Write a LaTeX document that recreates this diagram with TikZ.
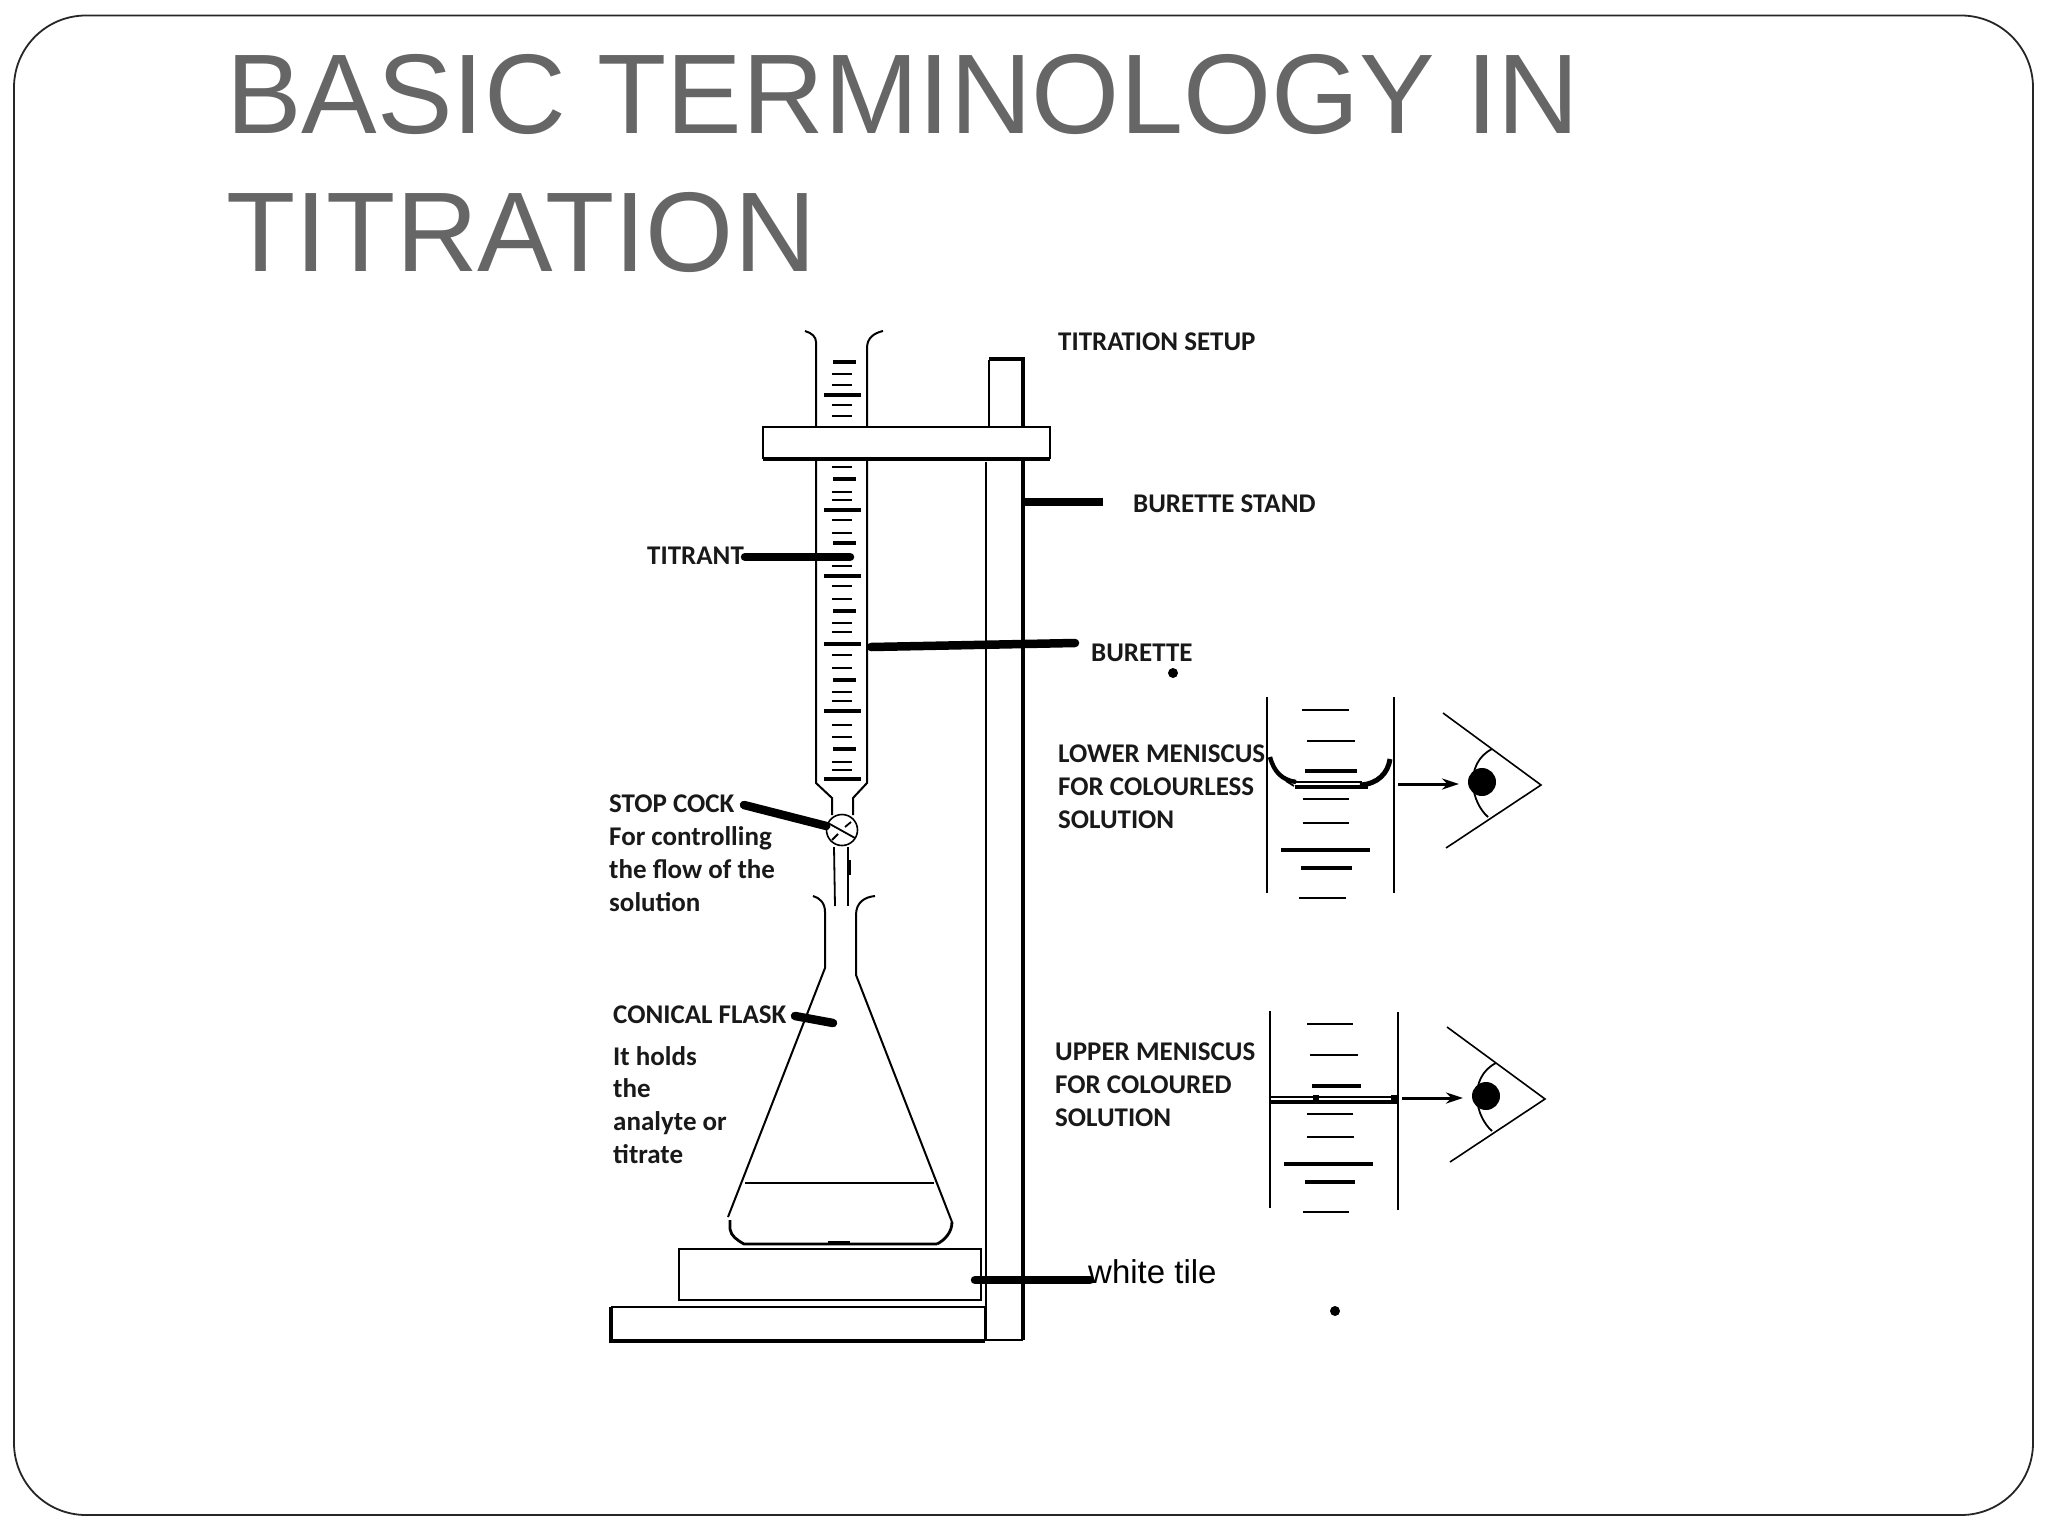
\documentclass[tikz,border=0pt]{standalone}
\usepackage{fontspec}
\setmainfont{Liberation Sans}
\newfontfamily\labelfont{Carlito}
\usetikzlibrary{arrows.meta}

\begin{document}
\begin{tikzpicture}[x=1pt, y=-1pt, line cap=butt,
    thin line/.style={line width=1.8pt},
    wall line/.style={line width=2pt},
    thick line/.style={line width=3.8pt},
    leader/.style={line width=8.5pt, line cap=round},
    sketch label/.style={anchor=north west, inner sep=0pt, align=left, text=black!90,
        font=\labelfont\bfseries\fontsize{27}{32.7}\selectfont},
    heading text/.style={anchor=base west, inner sep=0pt, text=black!60,
        font=\fontsize{113.3}{136}\selectfont}]

\useasboundingbox (0,0) rectangle (2048,1536);

% Slide frame and heading
\draw[line width=1.8pt, rounded corners=72pt, draw=black!85] (14,15.5) rectangle (2033,1515);
\node[heading text] (heading) at (226,134) {BASIC TERMINOLOGY IN};
\node[heading text] (heading2) at (226,271) {TITRATION};

% Stand, clamp, base and tile
\draw[wall line] (989,427) -- (989,360);
\draw[line width=3.2pt] (989,359) -- (1023,359) -- (1023,427);
\draw[wall line, fill=white] (763,427) rectangle (1050,458);
\draw[line width=3.4pt] (763,459) -- (1050,459);
\draw[wall line] (986,462) -- (986,1340) -- (1023,1340);
\draw[line width=3.6pt] (1023,458) -- (1023,1340);
\draw[wall line] (611,1307) -- (985,1307) -- (985,1341);
\draw[line width=3.6pt] (985,1341) -- (611,1341) -- (611,1307);
\draw[wall line] (679,1249) rectangle (981,1300);

% Burette
\draw[wall line] (805,331) .. controls (812,333) and (816,337) .. (816,342) -- (816,427);
\draw[wall line] (883,331) .. controls (874,333) and (867,338) .. (867,348) -- (867,427);
\draw[wall line] (816,458) -- (816,783) -- (832,798) -- (832,815);
\draw[wall line] (867,458) -- (867,783) -- (853,798) -- (853,815);
\foreach \y in {374,385,405,416,467,492,500,520,533,566,586,599,623,632,655,668,692,701,725,737,762,770} {
    \draw[thin line] (832,\y) -- (852,\y);
}
\foreach \y in {362,479,543,611,680,749} {
    \draw[thick line] (833,\y) -- (856,\y);
}
\foreach \y in {395,510,576,644,711,779} {
    \draw[thick line] (824,\y) -- (861,\y);
}

% Stop cock
\node[circle, draw, line width=1.6pt, minimum size=31pt, inner sep=0pt] (cock) at (842,830) {};
\draw[thin line] (828,823) -- (855,838);
\draw[thin line] (845,827) -- (851,822);
\draw[thin line] (832,840) -- (838,834);
\draw[thin line] (834,847) -- (835,906);
\draw[thin line] (848,847) -- (848,906);
\draw[line width=3pt] (849,860) -- (849,875);

% Conical flask
\draw[wall line] (813,896) .. controls (820,898) and (825,903) .. (825,912) -- (825,968) -- (728,1217);
\draw[wall line] (875,896) .. controls (865,897) and (856,902) .. (856,915) -- (856,975) -- (952,1222);
\draw[line width=2.8pt] (730,1220) -- (730,1229) .. controls (731,1236) and (737,1240) .. (744,1244) -- (937,1244);
\draw[line width=2.8pt] (937,1244) .. controls (945,1240) and (952,1232) .. (952,1222);
\draw[wall line] (745,1183) -- (934,1183);
\draw[wall line] (828,1242) -- (850,1242);

% Leaders to the labels
\coordinate (standA) at (1023,502);
\coordinate (standB) at (1103,502);
\coordinate (titrantA) at (745,557);
\coordinate (titrantB) at (850,557);
\coordinate (buretteA) at (871,647);
\coordinate (buretteK) at (923,646);
\coordinate (buretteB) at (1075,643);
\coordinate (cockA) at (744,805);
\coordinate (flaskA) at (795,1016);
\coordinate (flaskB) at (833,1023);
\coordinate (tileA) at (975,1280);
\coordinate (tileB) at (1090,1280);
\draw[leader, line cap=butt] (standA) -- (standB);
\draw[leader] (titrantA) -- (titrantB);
\draw[leader] (buretteA) -- (buretteK) -- (buretteB);
\draw[leader] (cockA) -- (cock);
\draw[leader] (flaskA) -- (flaskB);
\draw[leader] (tileA) -- (tileB);

% Labels
\node[sketch label] (setup) at (1058,333) {TITRATION SETUP};
\node[sketch label] (stand) at (1133,495) {BURETTE STAND};
\node[sketch label] (titrant) at (647,547) {TITRANT};
\node[sketch label] (burette) at (1091,644) {BURETTE};
\node[sketch label] (cocktext) at (609,795) {STOP COCK\\For controlling\\the flow of the\\solution};
\node[sketch label] (flask) at (613,1006) {CONICAL FLASK};
\node[sketch label] (holds) at (613,1046) {It holds\\the\\analyte or\\titrate};
\node[sketch label] (lower) at (1058,745) {LOWER MENISCUS\\FOR COLOURLESS\\SOLUTION};
\node[sketch label] (upper) at (1055,1043) {UPPER MENISCUS\\FOR COLOURED\\SOLUTION};
\node[anchor=base west, inner sep=0pt, font=\fontsize{33}{36}\selectfont] (tile) at (1088,1283) {white tile};

% Stray dots
\node[circle, fill=black, inner sep=0pt, minimum size=10pt] (dotA) at (1173,673) {};
\node[circle, fill=black, inner sep=0pt, minimum size=10pt] (dotB) at (1335,1311) {};

% Lower meniscus tube
\draw[wall line] (1267,697) -- (1267,893);
\draw[wall line] (1394,697) -- (1394,893);
\foreach \xa/\xb/\y in {1302/1349/710, 1307/1355/741, 1303/1349/799, 1303/1349/823, 1299/1346/898} {
    \draw[thin line] (\xa,\y) -- (\xb,\y);
}
\foreach \xa/\xb/\y in {1305/1357/771, 1281/1370/850, 1301/1352/868} {
    \draw[thick line] (\xa,\y) -- (\xb,\y);
}
\draw[line width=4.4pt] (1270,757) .. controls (1274,772) and (1282,780) .. (1296,782);
\draw[line width=5pt] (1360,785) .. controls (1378,784) and (1388,773) .. (1390,759);
\draw[thin line] (1286,781) -- (1294,786);
\draw[thin line] (1296,782) -- (1362,782);
\draw[thick line] (1295,787) -- (1368,787);

% Upper meniscus tube
\draw[wall line] (1270,1011) -- (1270,1208);
\draw[wall line] (1398,1012) -- (1398,1210);
\foreach \xa/\xb/\y in {1307/1353/1024, 1310/1358/1055, 1307/1353/1114, 1307/1354/1137, 1303/1349/1212} {
    \draw[thin line] (\xa,\y) -- (\xb,\y);
}
\foreach \xa/\xb/\y in {1312/1361/1086, 1284/1373/1164, 1305/1355/1182} {
    \draw[thick line] (\xa,\y) -- (\xb,\y);
}
\draw[thin line] (1270,1097) -- (1398,1097);
\draw[thick line] (1270,1102) -- (1398,1102);
\fill (1313,1095) rectangle (1319,1101);
\fill (1391,1095) rectangle (1398,1101);

% Eyes looking at the tubes
\foreach \dx/\dy/\n in {0/0/lo, 4/314/up} {
    \begin{scope}[shift={(\dx,\dy)}]
    \coordinate (arrow\n) at (1398,784);
    \coordinate (sight\n) at (1459,784);
    \draw[line width=3pt, -{Stealth[length=17pt, width=11pt]}] (arrow\n) -- (sight\n);
    \draw[line width=1.6pt] (1443,713) -- (1541,785) -- (1446,848);
    \node[circle, fill=black, inner sep=0pt, minimum size=28pt] (pupil\n) at (1482,782) {};
    \draw[line width=1.8pt] (1492,749) .. controls (1478,756) and (1472,770) .. (1473,785) .. controls (1474,798) and (1480,810) .. (1488,817);
    \end{scope}
}

\end{tikzpicture}
\end{document}
